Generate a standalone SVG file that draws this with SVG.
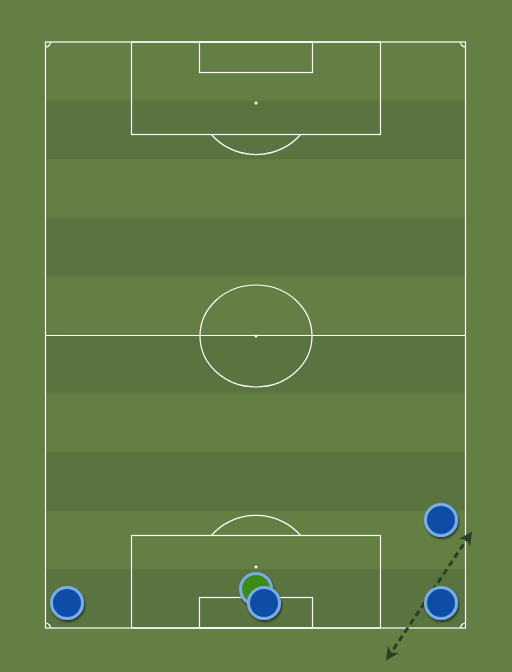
<svg xmlns="http://www.w3.org/2000/svg" width="512" height="672" viewBox="0 0 512 672">
<defs>
<style>
.ln{fill:none;stroke:#ffffff;stroke-width:1.2}
.stripe{fill:#5a7440}
.pl{fill:#0c4ea6;stroke:#79aceb;stroke-width:3}
.gk{fill:#3b8c17;stroke:#79aceb;stroke-width:3}
.arr{fill:none;stroke:#2e3d28;stroke-width:3;stroke-dasharray:6,4}
</style>
<marker id="ah" viewBox="0 0 10 10" refX="6" refY="5" markerWidth="4.5" markerHeight="4.5" orient="auto-start-reverse" markerUnits="strokeWidth">
<path d="M0,0 L10,5 L0,10 L3,5 z" fill="#2e3d28"/>
</marker>
<filter id="sh" x="-50%" y="-50%" width="200%" height="200%">
<feDropShadow dx="1" dy="2" stdDeviation="1.2" flood-color="#000" flood-opacity="0.55"/>
</filter>
</defs>
<rect width="512" height="672" fill="#647f43"/>
<g id="pitch">
<rect class="stripe" x="45.5" y="100.6" width="420" height="58.6"/>
<rect class="stripe" x="45.5" y="217.8" width="420" height="58.6"/>
<rect class="stripe" x="45.5" y="335" width="420" height="58.6"/>
<rect class="stripe" x="45.5" y="452.2" width="420" height="58.6"/>
<rect class="stripe" x="45.5" y="569.4" width="420" height="58.6"/>
<rect class="ln" x="45.5" y="42" width="420" height="586"/>
<line class="ln" x1="45.5" y1="335.5" x2="465.5" y2="335.5"/>
<ellipse class="ln" cx="256" cy="336" rx="56" ry="51"/>
<circle cx="256" cy="336" r="1.5" fill="#fff"/>
<rect class="ln" x="131.5" y="42" width="249" height="92.5"/>
<rect class="ln" x="199.5" y="42" width="113" height="30.5"/>
<circle cx="256" cy="103" r="1.5" fill="#fff"/>
<path class="ln" d="M211.5,134.5 A56,51 0 0 0 300.5,134.5"/>
<rect class="ln" x="131.5" y="535.5" width="249" height="92.5"/>
<rect class="ln" x="199.5" y="597.5" width="113" height="30.5"/>
<circle cx="256" cy="567" r="1.5" fill="#fff"/>
<path class="ln" d="M211.5,535.5 A56,51 0 0 1 300.5,535.5"/>
<path class="ln" d="M45.5,47 A5,5 0 0 0 50.5,42"/>
<path class="ln" d="M460.5,42 A5,5 0 0 0 465.5,47"/>
<path class="ln" d="M45.5,623 A5,5 0 0 1 50.5,628"/>
<path class="ln" d="M460.5,628 A5,5 0 0 1 465.5,623"/>
</g>
<g id="connectors">
<line class="arr" x1="469" y1="536" x2="389" y2="656" marker-start="url(#ah)" marker-end="url(#ah)"/>
</g>
<g id="player-gk"><circle class="gk" cx="256" cy="589" r="15.5" filter="url(#sh)"/></g>
<g id="player-1"><circle class="pl" cx="67" cy="603" r="15.5" filter="url(#sh)"/></g>
<g id="player-2"><circle class="pl" cx="264" cy="603" r="15.5" filter="url(#sh)"/></g>
<g id="player-3"><circle class="pl" cx="441" cy="520" r="15.5" filter="url(#sh)"/></g>
<g id="player-4"><circle class="pl" cx="441" cy="603" r="15.5" filter="url(#sh)"/></g>
</svg>
